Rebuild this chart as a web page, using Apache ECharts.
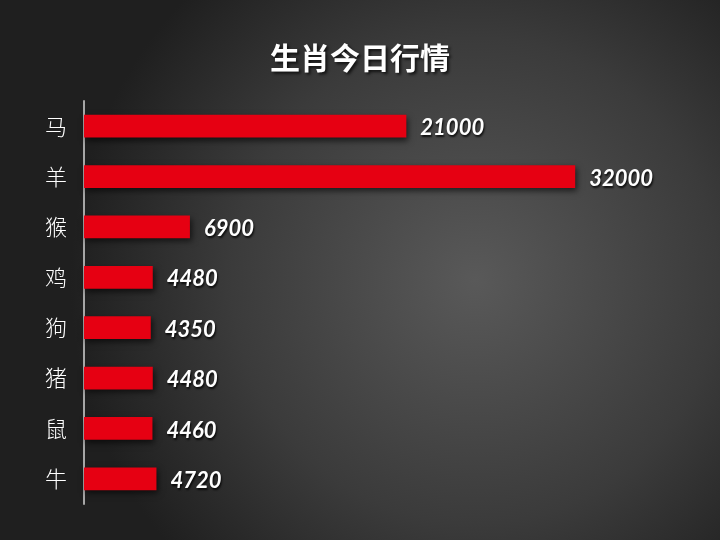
<!DOCTYPE html>
<html><head><meta charset="utf-8">
<script src="https://cdn.jsdelivr.net/npm/echarts@6/dist/echarts.min.js"></script>
<style>html,body{margin:0;padding:0;background:#333}#c{width:720px;height:540px}</style>
</head><body><div id="c"></div>
<script>
const categories = ['马','羊','猴','鸡','狗','猪','鼠','牛'];
const values = [21000, 32000, 6900, 4480, 4350, 4480, 4460, 4720];
const titleText = '生肖今日行情';

const chart = echarts.init(document.getElementById('c'));
chart.setOption({
  animation: false,
  backgroundColor: {
    type: 'radial', x: 0.66, y: 0.52, r: 0.75,
    colorStops: [{offset: 0, color: '#595959'}, {offset: 0.6, color: '#3b3b3b'}, {offset: 1, color: '#1f1f1f'}]
  },
  title: {
    text: titleText, left: 'center', top: 38,
    textStyle: {color: '#fff', fontSize: 30, fontWeight: 'bold', fontFamily: 'Noto Sans CJK SC',
      textShadowColor: 'rgba(0,0,0,0.7)', textShadowBlur: 3, textShadowOffsetX: 2, textShadowOffsetY: 2}
  },
  grid: {left: 84, right: 22, top: 101, bottom: 36, containLabel: false},
  xAxis: {type: 'value', min: 0, max: 40000, show: false},
  yAxis: {
    type: 'category', data: categories, inverse: true,
    axisLine: {show: true, lineStyle: {color: '#a6a6a6', width: 2}},
    axisTick: {show: false},
    axisLabel: {color: '#fff', fontSize: 22, margin: 17, fontWeight: 300, fontFamily: 'Noto Sans CJK SC'}
  },
  series: [{
    type: 'bar', data: values, barWidth: '45%',
    itemStyle: {color: '#e60012', shadowColor: 'rgba(0,0,0,0.6)', shadowBlur: 6, shadowOffsetX: 2, shadowOffsetY: 3},
    label: {
      show: true, position: 'right', distance: 14, offset: [0, 2],
      color: '#fff', fontSize: 22, fontWeight: 'bold', fontStyle: 'italic', fontFamily: 'Lato',
      textShadowColor: 'rgba(0,0,0,0.8)', textShadowBlur: 2, textShadowOffsetX: 1, textShadowOffsetY: 2
    }
  }]
});
</script></body></html>
